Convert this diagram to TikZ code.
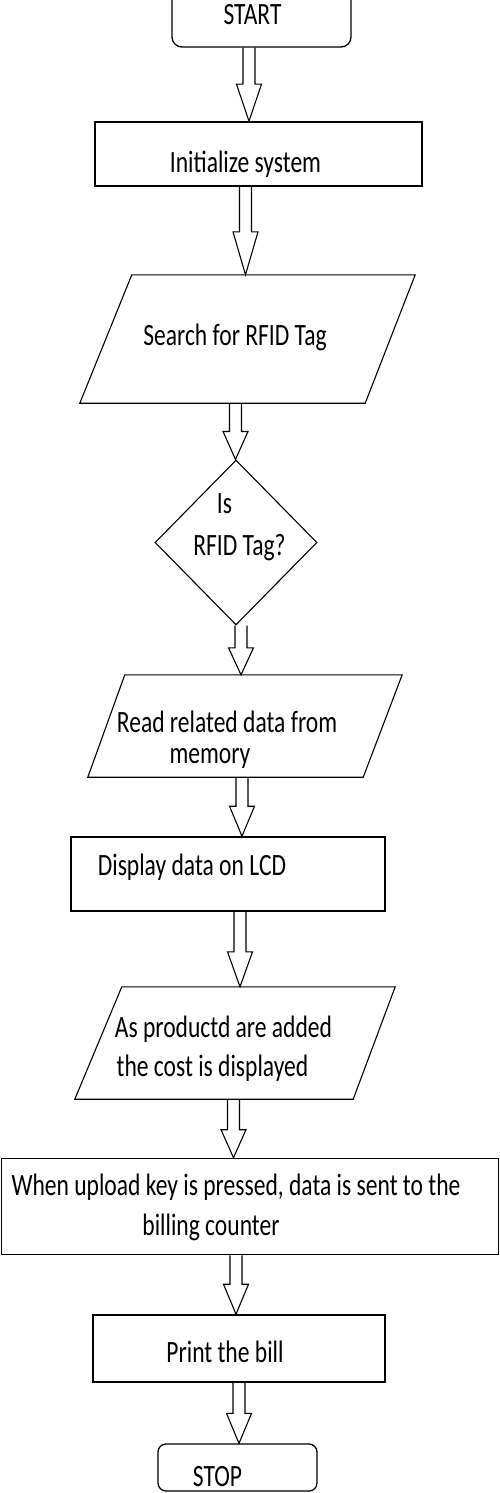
\documentclass[tikz,border=0pt]{standalone}
\usepackage{fontspec}
\setmainfont{Carlito}[FakeStretch=0.76]
\usetikzlibrary{shapes.geometric,calc}
\tikzset{
  box/.style={draw, rectangle, line width=1.6pt, inner sep=0pt},
  term/.style={draw, rectangle, rounded corners=10pt, line width=1.3pt, inner sep=0pt},
  ghost/.style={rectangle, inner sep=0pt},
  pline/.style={line width=1.1pt, line join=miter},
  decide/.style={draw, diamond, line width=1.1pt, inner sep=0pt},
  txt/.style={font=\fontsize{31}{36}\selectfont, anchor=base, inner sep=0pt},
  blk/.style={line width=1.1pt, line join=miter,
    to path={let \p1=(\tikztostart), \p2=(\tikztotarget) in
      (\x1-6pt,\y1) -- (\x1-6pt,\y2+#1pt) -- (\x1-12.5pt,\y2+#1pt) -- (\x1,\y2)
      -- (\x1+12.5pt,\y2+#1pt) -- (\x1+6pt,\y2+#1pt) -- (\x1+6pt,\y1)}},
  blk/.default=32
}
\newcommand\myparallel[3]{\draw[pline] ([xshift=#2pt]#1.north west) -- (#1.north east)
  -- ([xshift=-#3pt]#1.south east) -- (#1.south west) -- cycle;}
\begin{document}
\begin{tikzpicture}[x=1pt,y=-1pt]
\useasboundingbox (0,0) rectangle (500,1493);
\clip (0,0) rectangle (500,1493);

% shapes
\node[term, minimum width=179pt, minimum height=80pt] (start) at (261.5,7) {};
\node[box, minimum width=327pt, minimum height=64pt] (init) at (258.5,154) {};
\node[ghost, minimum width=335pt, minimum height=128pt] (search) at (247.5,339) {};
\myparallel{search}{52}{50}
\node[decide, minimum width=162pt, minimum height=165pt] (isTag) at (236,542.5) {};
\node[ghost, minimum width=314pt, minimum height=102pt] (read) at (245,726) {};
\myparallel{read}{37}{39}
\node[box, minimum width=314pt, minimum height=74pt] (display) at (228,874) {};
\node[ghost, minimum width=320pt, minimum height=112pt] (cost) at (235,1043) {};
\myparallel{cost}{47}{42}
\node[box, minimum width=497pt, minimum height=96pt] (upload) at (250,1206.5) {};
\node[box, minimum width=292pt, minimum height=67pt] (print) at (239,1348.5) {};
\node[term, rounded corners=8pt, minimum width=159pt, minimum height=47pt] (stop) at (237.5,1467.5) {};

% texts
\node[txt] (tStart) at (252.5,25) {START};
\node[txt] (tInit) at (245.5,172) {Initialize system};
\node[txt] (tSearch) at (235,345) {Search for RFID Tag};
\node[txt] (tIs) at (224.5,513) {Is};
\node[txt] (tTag) at (239.5,555) {RFID Tag?};
\node[txt] (tRead1) at (227,732) {Read related data from};
\node[txt] (tRead2) at (210,763) {memory};
\node[txt] (tDisp) at (192,875) {Display data on LCD};
\node[txt] (tCost1) at (223.5,1037) {As productd are added};
\node[txt] (tCost2) at (212.5,1076) {the cost is displayed};
\node[txt] (tUp1) at (236,1195) {When upload key is pressed, data is sent to the};
\node[txt] (tUp2) at (211,1235) {billing counter};
\node[txt] (tPrint) at (225,1362) {Print the bill};
\node[txt] (tStop) at (217.5,1486) {STOP};

% arrow axes
\coordinate (a1) at (249,0);
\coordinate (a2) at (245.5,0);
\coordinate (a3) at (235.5,0);
\coordinate (a4) at (241,0);
\coordinate (a5) at (242,0);
\coordinate (a6) at (240,0);
\coordinate (a7) at (233.5,0);
\coordinate (a8) at (236,0);
\coordinate (a9) at (239,0);

% block arrows
\draw[blk=37] (start.south -| a1) to (init.north -| a1);
\draw[blk=43] (init.south -| a2) to (search.north -| a2);
\draw[blk=28] (search.south -| a3) to (isTag.north -| a3);
\draw[blk=27] (isTag.south -| a4) to (read.north -| a4);
\draw[blk=30] (read.south -| a5) to (display.north -| a5);
\draw[blk=35] (display.south -| a6) to (cost.north -| a6);
\draw[blk=28] (cost.south -| a7) to (upload.north -| a7);
\draw[blk=30] (upload.south -| a8) to (print.north -| a8);
\draw[blk=30] (print.south -| a9) to (stop.north -| a9);
\end{tikzpicture}
\end{document}
